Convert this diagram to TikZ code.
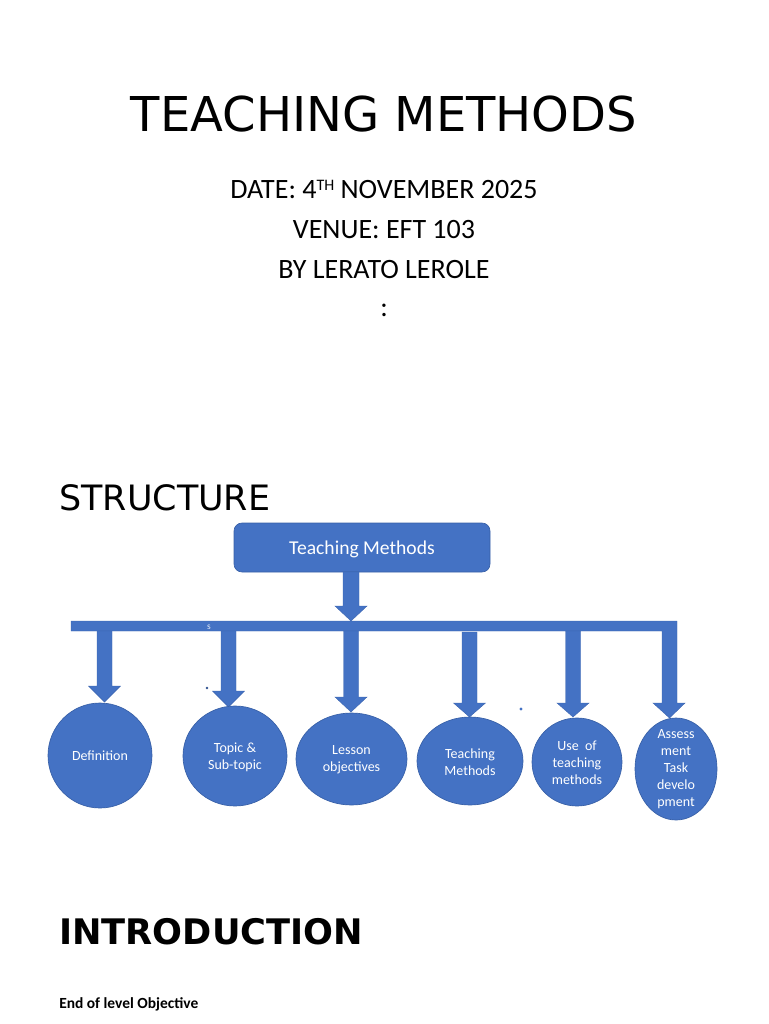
\documentclass[tikz,border=0pt]{standalone}
\usepackage{fontspec}
\setmainfont{Carlito}
\newfontfamily\djv{DejaVu Sans}
\usetikzlibrary{shapes.geometric}
\definecolor{bfill}{HTML}{4472C4}
\definecolor{bline}{HTML}{2F528F}
\tikzset{
  arrfill/.style={fill=bfill,draw=bline!40!bfill,line width=0.3pt},
  bub/.style={ellipse,fill=bfill,draw=bline!55!bfill,line width=0.5pt,inner sep=0pt},
  bubtext/.style={text=white,align=center,font=\fontsize{10.5}{12.75}\selectfont,inner sep=0pt},
  topbox/.style={rectangle,rounded corners=6pt,fill=bfill,draw=bline!55!bfill,line width=0.5pt,
    minimum width=192pt,minimum height=36.75pt},
  subline/.style={anchor=base,font=\fontsize{21}{25}\selectfont,inner sep=0pt},
}
\newcommand\darr[4]{%
  \path[arrfill] (#1-7.5,#2) -- (#1+7.5,#2) -- (#1+7.5,#3) -- (#1+16,#3) -- (#1,#4)
    -- (#1-16,#3) -- (#1-7.5,#3) -- cycle;}
\begin{document}
\begin{tikzpicture}[x=0.75pt,y=-0.75pt]
\useasboundingbox (0,0) rectangle (768,1024);
% titles
\node[anchor=base,font=\djv\fontsize{36}{40}\selectfont,inner sep=0pt] (title) at (384,132) {TEACHING METHODS};
\node[subline] (date) at (384,198) {DATE: 4\raisebox{5.6pt}{\fontsize{12}{14}\selectfont TH} NOVEMBER 2025};
\node[subline] (venue) at (384,238) {VENUE: EFT 103};
\node[subline] (by) at (384,278) {BY LERATO LEROLE};
\node[subline] (colon) at (384,316) {:};
\node[anchor=base west,font=\djv\fontsize{26.2}{30}\selectfont,inner sep=0pt] (structure) at (59,510) {STRUCTURE};
% diagram
\node[topbox] (tm) at (362,547.5) {};
\node[text=white,font=\fontsize{14.7}{18}\selectfont,inner sep=0pt] (tmtext) at (362,549.5) {Teaching Methods};
\path[arrfill] (343,572) -- (359,572) -- (359,606) -- (367,606) -- (351,621) -- (335,606) -- (343,606) -- cycle;
% bar with bent right end
\path[arrfill] (71,621) -- (677,621) -- (677,703) -- (685,703) -- (669.5,718) -- (653,703) -- (662,703) -- (662,631) -- (71,631) -- cycle;
\coordinate (bar) at (374,626);
\node[text=white!85!bfill,font=\fontsize{7}{8}\selectfont,inner sep=0pt] (s) at (209,627) {s};
\darr{104.5}{631}{686}{702}
\darr{228.5}{631}{691}{707}
\darr{351}{631}{697}{712}
\darr{469.5}{632}{703}{717}
\darr{573}{631}{703}{717}
\fill[bline] (207,688) circle (1.3);
\fill[bfill] (521,709) circle (1.6);
% bubbles
\node[bub,minimum width=78pt,minimum height=78.75pt] (def) at (100,755.5) {};
\node[bubtext] (deft) at (100,756) {Definition};
\node[bub,minimum width=78pt,minimum height=75pt] (topic) at (235,756) {};
\node[bubtext] (topict) at (235,757) {Topic \&\\Sub-topic};
\node[bub,minimum width=83.25pt,minimum height=69pt] (lesson) at (351.5,759) {};
\node[bubtext] (lessont) at (351.5,760) {Lesson\\objectives};
\node[bub,minimum width=79.5pt,minimum height=66pt] (teach) at (470,761) {};
\node[bubtext] (teacht) at (470,762.5) {Teaching\\Methods};
\node[bub,minimum width=67.5pt,minimum height=66pt] (use) at (577,762) {};
\node[bubtext] (uset) at (577,762.5) {Use\ \ of\\teaching\\methods};
\node[bub,minimum width=61.5pt,minimum height=76.5pt] (assess) at (676,769) {};
\node[bubtext] (assesst) at (676,769.5) {Assess\\ment\\Task\\develo\\pment};
% intro
\node[anchor=base west,font=\djv\bfseries\fontsize{26.4}{30}\selectfont,inner sep=0pt] (intro) at (59,944) {INTRODUCTION};
\node[anchor=base west,font=\bfseries\fontsize{11.6}{13}\selectfont,inner sep=0pt] (eol) at (59,1008) {End of level Objective};
\end{tikzpicture}
\end{document}
